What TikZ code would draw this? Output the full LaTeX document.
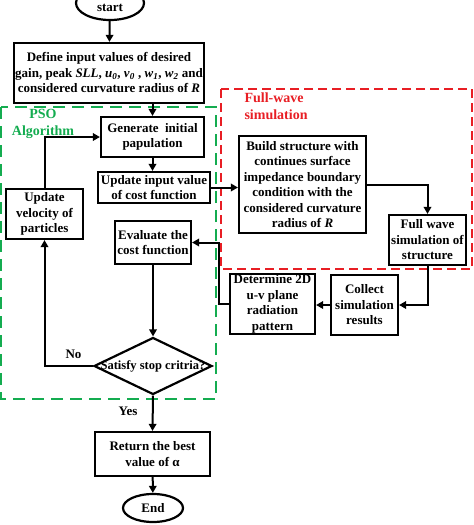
\documentclass[tikz,border=0pt]{standalone}
\usepackage{fontspec}
\setmainfont{Liberation Serif}
\usetikzlibrary{arrows.meta,shapes.geometric}
\definecolor{psogreen}{RGB}{20,172,80}
\definecolor{fwred}{RGB}{232,30,36}
\tikzset{
  every node/.style={font=\fontsize{13}{15.5}\selectfont\bfseries},
  box/.style={draw=black,line width=2.2pt,rectangle,align=center,inner sep=0pt},
  oval/.style={draw=black,line width=2.2pt,ellipse,inner sep=0pt},
  arr/.style={line width=2pt,-{Triangle[length=7pt,width=7.5pt]}},
  greenframe/.style={draw=psogreen,line width=2.8pt,dash pattern=on 12pt off 7pt},
  redframe/.style={draw=fwred,line width=2.8pt,dash pattern=on 9pt off 5pt},
  framelabel/.style={font=\fontsize{14}{17}\selectfont\bfseries},
}
\begin{document}
\begin{tikzpicture}[x=1pt,y=-1pt]
\useasboundingbox (0,0) rectangle (474,525);
% frames
\draw[greenframe] (1,107) rectangle (216,399);
\draw[redframe] (221,89) rectangle (472,269);
\node[framelabel,text=psogreen,align=center] (psolbl) at (43,123.5) {PSO\\Algorithm};
\node[framelabel,text=fwred,align=left,anchor=west] (fwlbl) at (241,106.5) {Full-wave\\simulation};
% nodes
\node[oval,minimum width=68,minimum height=34,label={[yshift=-5pt]center:start}] (start) at (110,3) {};
\node[box,minimum width=190,minimum height=60] (define) at (109,73)
  {Define input values of desired\\gain, peak \textit{SLL}, \textit{u}\textsubscript{\textit{0}}, \textit{v}\textsubscript{\textit{0}} , \textit{w}\textsubscript{\textit{1}}, \textit{w}\textsubscript{\textit{2}} and\\considered curvature radius of \textit{R}};
\node[box,minimum width=103,minimum height=40] (generate) at (152.5,137) {Generate\ \ initial\\papulation};
\node[box,minimum width=112,minimum height=31] (updatecost) at (154,187.5) {Update input value\\of cost function};
\node[box,minimum width=127,minimum height=97] (build) at (302.5,184.5)
  {Build structure with\\continues surface\\impedance boundary\\condition with the\\considered curvature\\radius of \textit{R}};
\node[box,minimum width=77,minimum height=50] (fullwave) at (427.5,240) {Full wave\\simulation of\\structure};
\node[box,minimum width=67,minimum height=60] (collect) at (364.5,305) {Collect\\simulation\\results};
\node[box,minimum width=85,minimum height=60] (determine) at (272.5,304) {Determine 2D\\u-v plane\\radiation\\pattern};
\node[box,minimum width=76,minimum height=43] (evaluate) at (153,242.5) {Evaluate the\\cost function};
\node[box,minimum width=77,minimum height=50] (velocity) at (44.5,214) {Update\\velocity of\\particles};
\node[draw=black,line width=2.2pt,diamond,minimum width=118,minimum height=57,inner sep=0pt] (dia) at (153,366) {};
\node[font=\fontsize{12.5}{14}\selectfont\bfseries] (diatext) at (153,366) {Satisfy stop critria?};
\node[box,minimum width=115,minimum height=44] (return) at (152.5,454) {Return the best\\value of α};
\node[oval,minimum width=60,minimum height=28] (end) at (153,508) {End};
\coordinate (jdet) at (219,300);
% connectors
\draw[arr] (start) -- (define);
\draw[arr] (generate.north |- define.south) -- (generate.north);
\draw[arr] (generate.south) -- (generate.south |- updatecost.north);
\draw[arr] (updatecost.east) -- (updatecost.east -| build.west);
\draw[arr] (build.east) -| (fullwave.north);
\draw[arr] (fullwave.south) |- (collect.east);
\draw[arr] (collect.west) -- (collect.west -| determine.east);
\draw[arr] (determine.west) -- (determine.west -| jdet) |- (evaluate.east);
\draw[arr] (evaluate.south) -- (dia.north);
\draw[arr] (dia.west) -| node[pos=0.2,above=3pt] (nolbl) {No} (velocity.south);
\draw[arr] (velocity.north) |- (generate.west);
\draw[arr] (dia.south) -- node[pos=0.45,left=11pt] (yeslbl) {Yes} (return.north);
\draw[arr] (return) -- (end);
\end{tikzpicture}
\end{document}
